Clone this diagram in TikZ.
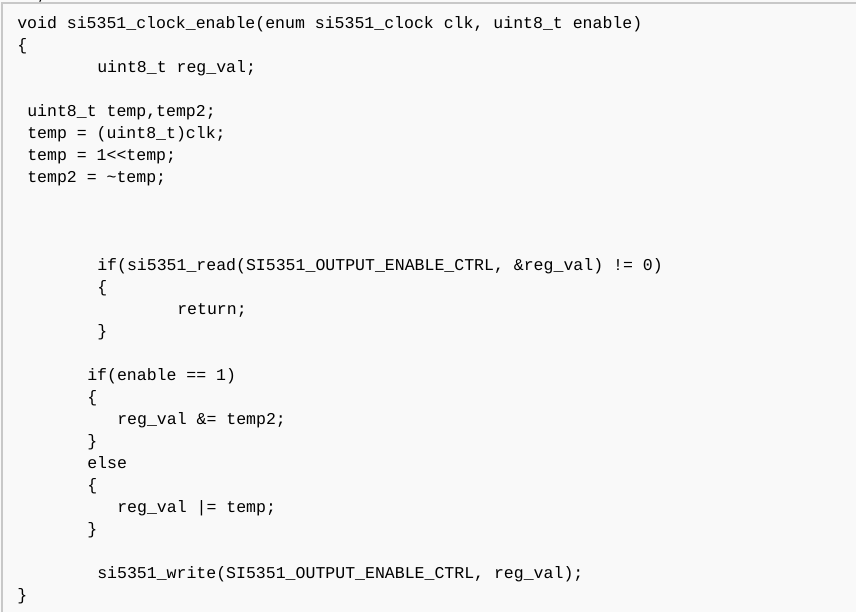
\documentclass[tikz,border=0pt]{standalone}
\usepackage{fontspec}
\setmainfont{Liberation Mono}
\begin{document}
\begin{tikzpicture}[x=0.75pt,y=-0.75pt,
  code/.style={anchor=base west,inner sep=0pt,font=\fontsize{12.4pt}{14pt}\selectfont,text=black}]
\definecolor{bg}{RGB}{249,249,249}
\definecolor{edge}{RGB}{200,200,200}
\fill[bg] (0,0) rectangle (856,612);
\useasboundingbox (0,0) rectangle (856,612);
\draw[edge,line width=1pt] (2,612) -- (2,3) -- (856,3);
\node[code] (l0) at (37,-1) {,};
\node[code] (l1) at (17,28) {void si5351\_clock\_enable(enum si5351\_clock clk, uint8\_t enable)};
\node[code] (l2) at (17,50) {\{};
\node[code] (l3) at (97,72) {uint8\_t reg\_val;};
\node[code] (l4) at (27,116) {uint8\_t temp,temp2;};
\node[code] (l5) at (27,138) {temp = (uint8\_t)clk;};
\node[code] (l6) at (27,160) {temp = 1<{}<temp;};
\node[code] (l7) at (27,182) {temp2 = \textasciitilde temp;};
\node[code] (l8) at (97,270) {if(si5351\_read(SI5351\_OUTPUT\_ENABLE\_CTRL, \&reg\_val) != 0)};
\node[code] (l9) at (97,292) {\{};
\node[code] (l10) at (177,314) {return;};
\node[code] (l11) at (97,336) {\}};
\node[code] (l12) at (87,380) {if(enable == 1)};
\node[code] (l13) at (87,402) {\{};
\node[code] (l14) at (117,424) {reg\_val \&= temp2;};
\node[code] (l15) at (87,446) {\}};
\node[code] (l16) at (87,468) {else};
\node[code] (l17) at (87,490) {\{};
\node[code] (l18) at (117,512) {reg\_val |= temp;};
\node[code] (l19) at (87,534) {\}};
\node[code] (l20) at (97,578) {si5351\_write(SI5351\_OUTPUT\_ENABLE\_CTRL, reg\_val);};
\node[code] (l21) at (17,600) {\}};
\end{tikzpicture}
\end{document}
